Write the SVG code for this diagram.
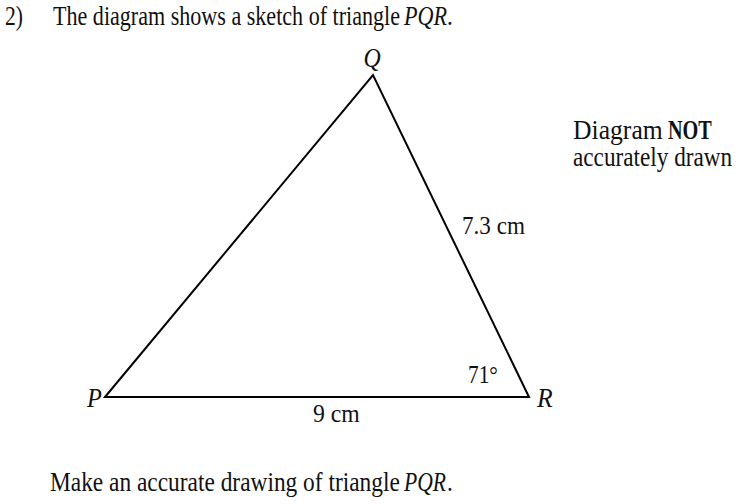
<svg xmlns="http://www.w3.org/2000/svg" width="739" height="504" viewBox="0 0 739 504">
<style>
text { font-family: "Liberation Serif", "Times New Roman", serif; font-size: 27px; fill: #111; }
.it { font-style: italic; }
.b { font-weight: bold; }
.sm { font-size: 25px; }
.edge { stroke: #000; stroke-width: 2; fill: none; stroke-linejoin: miter; }
</style>
<rect width="739" height="504" fill="#fff"/>
<text transform="translate(5,25) scale(0.8,1)">2)</text>
<text transform="translate(53,25) scale(0.818,1)">The diagram shows a sketch of triangle</text>
<text class="it" transform="translate(404,25) scale(0.82,1)">PQR</text>
<text transform="translate(447,25) scale(0.85,1)">.</text>
<g id="connectors">
<path class="edge" d="M105,397 L373,75 L529,397 Z"/>
</g>
<g id="Q"><text class="it" transform="translate(372,67) scale(0.88,1)" text-anchor="middle">Q</text></g>
<g id="P"><text class="it" transform="translate(87,407) scale(0.9,1)">P</text></g>
<g id="R"><text class="it" transform="translate(537,407) scale(0.95,1)">R</text></g>
<g id="labels">
<text class="sm" transform="translate(462,234) scale(0.926,1)">7.3 cm</text>
<text class="sm" transform="translate(468,383) scale(0.853,1)">71°</text>
<text class="sm" transform="translate(313,422) scale(0.95,1)">9 cm</text>
<text transform="translate(573,139) scale(0.95,1)">Diagram</text>
<text class="b" transform="translate(668,139) scale(0.75,1)">NOT</text>
<text transform="translate(573,166) scale(0.86,1)">accurately drawn</text>
</g>
<text transform="translate(50,491) scale(0.866,1)">Make an accurate drawing of triangle</text>
<text class="it" transform="translate(404,491) scale(0.8,1)">PQR</text>
<text transform="translate(447,491) scale(0.85,1)">.</text>
</svg>
